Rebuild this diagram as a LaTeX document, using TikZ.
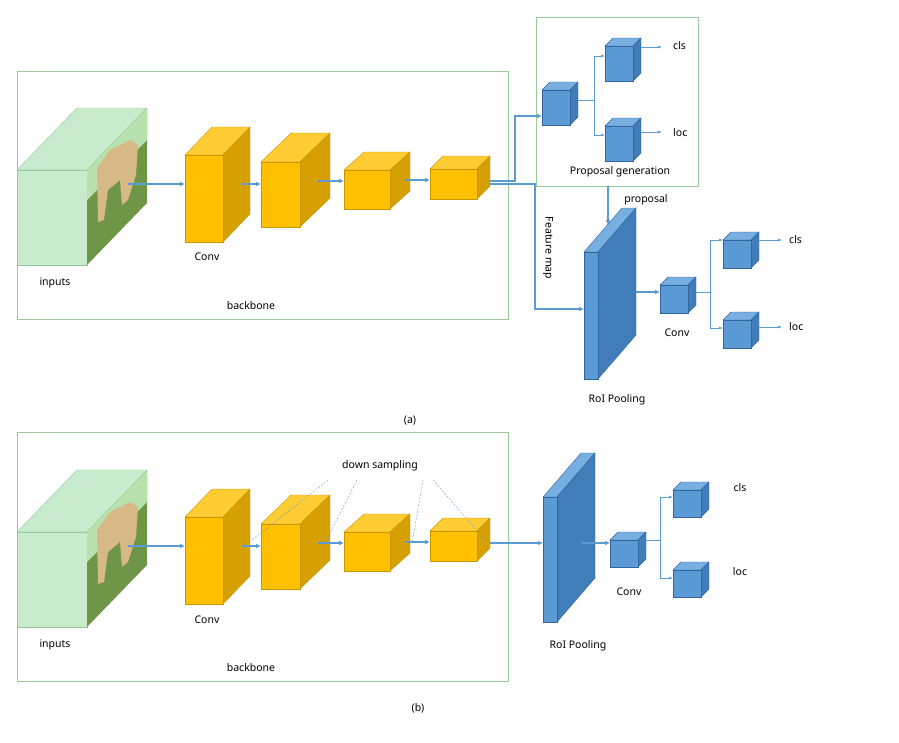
\documentclass[tikz,border=0pt]{standalone}
\usepackage{fontspec}
\setmainfont{Noto Sans}
\begin{document}
\begin{tikzpicture}[x=1pt,y=-1pt,
  txt/.style={font=\fontsize{10.5}{12}\selectfont,inner sep=1pt},
  frame/.style={draw=green!50!black!40!white,line width=0.7pt},
  arr/.style={draw=blue!45!cyan!60!gray,color=blue!45!cyan!60!gray,line width=1.6pt,-{Latex[length=5pt,width=5pt]}},
  tarr/.style={draw=arrblue,line width=0.6pt,-{Latex[length=4pt,width=3pt]}},
  tline/.style={draw=arrblue,line width=0.6pt},
  dsh/.style={draw=arrblue,line width=0.4pt,dash pattern=on 2pt off 1.5pt}]
\usetikzlibrary{arrows.meta}
\definecolor{arrblue}{RGB}{91,155,213}
\definecolor{yf}{RGB}{255,192,0}
\definecolor{yt}{RGB}{255,204,51}
\definecolor{ys}{RGB}{214,160,0}
\definecolor{ye}{RGB}{200,150,0}
\definecolor{bf}{RGB}{91,155,213}
\definecolor{bt}{RGB}{120,175,225}
\definecolor{bs}{RGB}{65,125,185}
\definecolor{be}{RGB}{50,100,160}
\definecolor{gf}{RGB}{200,235,205}
\definecolor{ge}{RGB}{150,200,155}
\definecolor{grass}{RGB}{110,150,70}
\definecolor{dog}{RGB}{215,185,135}
\tikzset{arr/.style={draw=arrblue,color=arrblue,line width=1.6pt,-{Latex[length=5pt,width=5pt]}}}
\newcommand{\ybox}[6]{% x1 y1 x2 y2 dx dy
  \fill[yt,draw=ye,line width=0.4pt] (#1,#2)--(#1+#5,#2-#6)--(#3+#5,#2-#6)--(#3,#2)--cycle;
  \fill[ys,draw=ye,line width=0.4pt] (#3,#2)--(#3+#5,#2-#6)--(#3+#5,#4-#6)--(#3,#4)--cycle;
  \fill[yf,draw=ye,line width=0.4pt] (#1,#2) rectangle (#3,#4);}
\newcommand{\bbox}[4]{% x1 y1 x2 y2, offset 8
  \fill[bt,draw=be,line width=0.4pt] (#1,#2)--(#1+8,#2-8)--(#3+8,#2-8)--(#3,#2)--cycle;
  \fill[bs,draw=be,line width=0.4pt] (#3,#2)--(#3+8,#2-8)--(#3+8,#4-8)--(#3,#4)--cycle;
  \fill[bf,draw=be,line width=0.4pt] (#1,#2) rectangle (#3,#4);}
\newcommand{\incube}[1]{% y shift
  \begin{scope}[yshift=-#1]
  \fill[gf,draw=ge,line width=0.4pt] (17,170)--(77,108)--(147,108)--(87,170)--cycle;
  \fill[gf,draw=ge,line width=0.4pt] (17,170) rectangle (87,265);
  \fill[grass] (87,170)--(147,108)--(147,203)--(87,265)--cycle;
  \fill[grass!70!green!40!white] (87,170)--(147,108)--(147,140)--(87,200)--cycle;
  \fill[dog] (97,168)--(110,150)--(130,140)--(138,145)--(136,175)--(128,200)--(122,205)--(120,180)--(108,190)--(104,220)--(98,222)--cycle;
  \end{scope}}
\newcommand{\slab}[3]{% x y(top-left front) height
  \fill[bt,draw=be,line width=0.4pt] (#1,#2)--(#1+38,#2-44)--(#1+52,#2-44)--(#1+14,#2)--cycle;
  \fill[bs,draw=be,line width=0.4pt] (#1+14,#2)--(#1+52,#2-44)--(#1+52,#2+#3-44)--(#1+14,#2+#3)--cycle;
  \fill[bf,draw=be,line width=0.4pt] (#1,#2) rectangle (#1+14,#2+#3);}
\path[use as bounding box] (0,0) rectangle (899,742);
% ================= (a)
\draw[frame] (17,71) rectangle (508,319);
\node[txt] (bb1) at (251,306) {backbone};
\incube{0}
\node[txt] (in1) at (55,283) {inputs};
\ybox{185}{155}{223}{242}{27}{28}
\ybox{261}{162}{300}{227}{30}{29}
\ybox{344}{170}{390}{209}{20}{18}
\ybox{430}{169}{477}{199}{13}{13}
\node[txt] (c1) at (207,257) {Conv};
\coordinate (a0) at (128,184); \coordinate (a1) at (185,184);
\draw[arr] (a0)--(a1);
\coordinate (a2) at (242,184); \coordinate (a3) at (261,184);
\draw[arr] (a2)--(a3);
\coordinate (a4) at (318,181); \coordinate (a5) at (344,181);
\draw[arr] (a4)--(a5);
\coordinate (a6) at (405,180); \coordinate (a7) at (430,180);
\draw[arr] (a6)--(a7);
\draw[frame] (536,17) rectangle (698,186);
\node[txt] (pg) at (620,172) {Proposal generation};
\bbox{542}{90}{570}{125}
\bbox{605}{46}{633}{81}
\bbox{605}{126}{633}{161}
\coordinate (p0) at (578,100); \coordinate (p1) at (594,56); \coordinate (p2) at (594,135);
\draw[tline] (p0)--(594,100);
\draw[tarr] (594,100)|-(605,56);
\draw[tarr] (594,100)|-(605,135);
\coordinate (q0) at (641,47); \coordinate (q1) at (662,47);
\draw[tarr] (q0)--(q1);
\node[txt,anchor=west] (cls1) at (672,46) {cls};
\coordinate (q2) at (641,132); \coordinate (q3) at (662,132);
\draw[tarr] (q2)--(q3);
\node[txt,anchor=west] (loc1) at (672,133) {loc};
\coordinate (f0) at (490,181); \coordinate (f1) at (542,116);
\draw[arr,line width=1.4pt] (f0)--(515,181)--(515,116)--(f1);
\coordinate (f2) at (490,184); \coordinate (f3) at (584,309);
\draw[arr,line width=1.4pt] (f2)--(535,184)--(535,309)--(f3);
\node[txt,rotate=-90] (fm) at (548,248) {Feature map};
\coordinate (pr0) at (608,186); \coordinate (pr1) at (608,225);
\draw[arr] (pr0)--(pr1);
\node[txt] (prop) at (646,200) {proposal};
\slab{584}{252}{127}
\node[txt] (roi1) at (617,400) {RoI Pooling};
\coordinate (r0) at (636,292); \coordinate (r1) at (660,292);
\draw[arr] (r0)--(r1);
\bbox{660}{285}{688}{313}
\node[txt] (c2) at (677,333) {Conv};
\draw[tline] (696,292)--(710,292);
\draw[tarr] (710,292)|-(723,240);
\draw[tarr] (710,292)|-(723,328);
\bbox{723}{240}{751}{268}
\bbox{723}{320}{751}{348}
\coordinate (s0) at (759,240); \coordinate (s1) at (782,240);
\draw[tarr] (s0)--(s1);
\node[txt,anchor=west] (cls2) at (788,240) {cls};
\coordinate (s2) at (759,327); \coordinate (s3) at (782,327);
\draw[tarr] (s2)--(s3);
\node[txt,anchor=west] (loc2) at (788,327) {loc};
\node[txt] (la) at (410,421) {(a)};
% ================= (b)
\draw[frame] (17,432) rectangle (508,681);
\node[txt] (bb2) at (251,668) {backbone};
\incube{362}
\node[txt] (in2) at (55,645) {inputs};
\ybox{185}{517}{223}{604}{27}{28}
\ybox{261}{524}{300}{589}{30}{29}
\ybox{344}{532}{390}{571}{20}{18}
\ybox{430}{531}{477}{561}{13}{13}
\node[txt] (c3) at (207,620) {Conv};
\coordinate (b0) at (128,546); \coordinate (b1) at (185,546);
\draw[arr] (b0)--(b1);
\coordinate (b2) at (242,546); \coordinate (b3) at (261,546);
\draw[arr] (b2)--(b3);
\coordinate (b4) at (318,543); \coordinate (b5) at (344,543);
\draw[arr] (b4)--(b5);
\coordinate (b6) at (405,542); \coordinate (b7) at (430,542);
\draw[arr] (b6)--(b7);
\node[txt] (ds) at (380,466) {down sampling};
\coordinate (d0) at (328,480); \coordinate (d1) at (252,540);
\coordinate (d2) at (357,480); \coordinate (d3) at (325,543);
\coordinate (d4) at (423,480); \coordinate (d5) at (412,543);
\coordinate (d6) at (433,480); \coordinate (d7) at (486,541);
\draw[dsh] (d0)--(d1); \draw[dsh] (d2)--(d3); \draw[dsh] (d4)--(d5); \draw[dsh] (d6)--(d7);
\slab{543}{497}{125}
\node[txt] (roi2) at (578,646) {RoI Pooling};
\coordinate (e0) at (490,543); \coordinate (e1) at (543,543);
\draw[arr] (e0)--(e1);
\coordinate (e2) at (582,543); \coordinate (e3) at (610,543);
\draw[arr] (e2)--(e3);
\bbox{610}{540}{638}{567}
\node[txt] (c4) at (629,592) {Conv};
\draw[tline] (646,540)--(660,540);
\draw[tarr] (660,540)|-(673,497);
\draw[tarr] (660,540)|-(673,578);
\bbox{673}{490}{701}{517}
\bbox{673}{570}{701}{597}
\node[txt] (cls3) at (740,488) {cls};
\node[txt] (loc3) at (740,572) {loc};
\node[txt] (lb) at (418,708) {(b)};
\end{tikzpicture}
\end{document}
